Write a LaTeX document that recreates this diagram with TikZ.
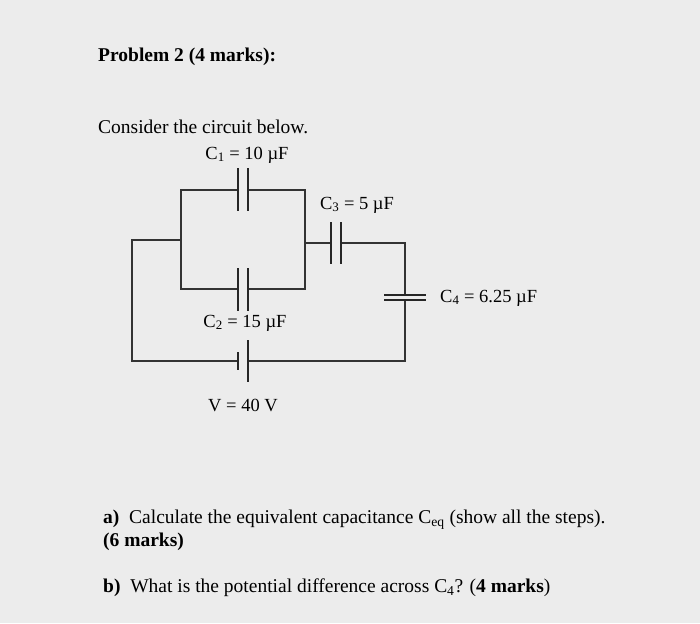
\documentclass[tikz,border=0pt]{standalone}
\usepackage{fontspec}
\setmainfont{Liberation Serif}
\begin{document}
\begin{tikzpicture}[x=1pt,y=-1pt,
  w/.style={line width=1.2pt,black!80},
  pl/.style={line width=2pt,black!85},
  lbl/.style={font=\fontsize{18.5}{20}\selectfont,inner sep=0pt},
  txt/.style={font=\fontsize{19.5}{22}\selectfont,inner sep=0pt,anchor=west}]
\fill[gray!15] (0,0) rectangle (700,623);
\useasboundingbox (0,0) rectangle (700,623);
\node[txt] (title) at (98,57) {\textbf{Problem 2 (4 marks):}};
\node[txt] (cons) at (98,127) {Consider the circuit below.};
\node[txt] (qa) at (103,520) {\textbf{a)}\ \ Calculate the equivalent capacitance C\textsubscript{eq} (show all the steps).};
\node[txt] (qa2) at (103,542) {\textbf{(6 marks)}};
\node[txt] (qb) at (103,588) {\textbf{b)}\ \ What is the potential difference across C\textsubscript{4}? (\textbf{4 marks})};
\node[lbl] (l1) at (247,155) {C\textsubscript{1} = 10 µF};
\node[lbl] (l3) at (357,205) {C\textsubscript{3} = 5 µF};
\node[lbl,anchor=west] (l4) at (440,298) {C\textsubscript{4} = 6.25 µF};
\node[lbl] (l2) at (245,323) {C\textsubscript{2} = 15 µF};
\node[lbl] (lv) at (243,405) {V = 40 V};
\coordinate (A) at (181,240);
\coordinate (B) at (305,240);
\draw[w] (A) -- (132,240) -- (132,361) -- (238,361);
\draw[w] (248,361) -- (405,361) -- (405,300);
\draw[w] (405,295) -- (405,243) -- (341,243);
\draw[w] (331,243) -- (305,243) -- (305,190) -- (248,190);
\draw[w] (238,190) -- (181,190) -- (181,289) -- (238,289);
\draw[w] (248,289) -- (305,289) -- (305,243);
\draw[pl] (238,168) -- (238,211); \draw[pl] (248,168) -- (248,211);
\draw[pl] (238,268) -- (238,311); \draw[pl] (248,268) -- (248,311);
\draw[pl] (331,222) -- (331,264); \draw[pl] (341,222) -- (341,264);
\draw[pl] (384,295) -- (426,295); \draw[pl] (384,300) -- (426,300);
\draw[pl] (238,352) -- (238,370); \draw[pl] (248,340) -- (248,382);
\end{tikzpicture}
\end{document}
